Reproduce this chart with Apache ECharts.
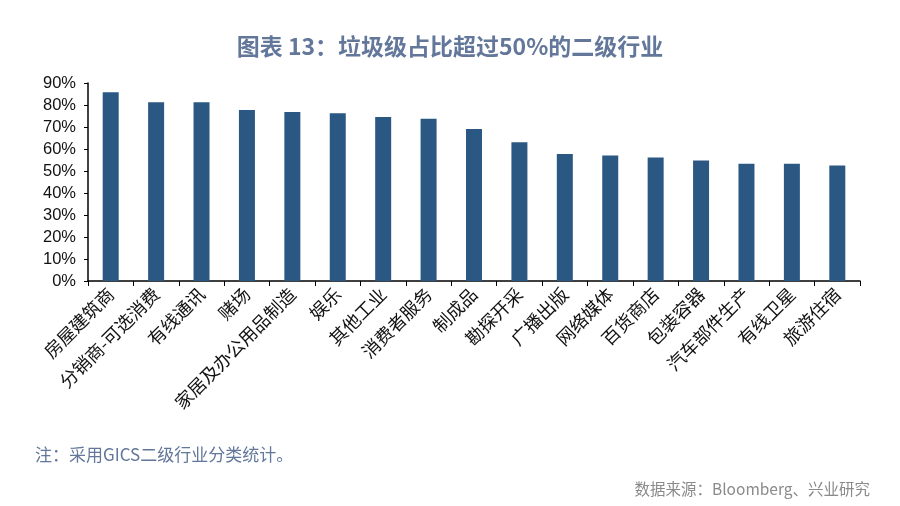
<!DOCTYPE html>
<html><head><meta charset="utf-8">
<script src="https://cdn.jsdelivr.net/npm/echarts@6/dist/echarts.min.js"></script>
<style>html,body{margin:0;padding:0;background:#fff}#c{width:900px;height:506px}</style>
</head><body><div id="c"></div>
<script>
const categories = ['房屋建筑商','分销商-可选消费','有线通讯','赌场','家居及办公用品制造','娱乐','其他工业','消费者服务','制成品','勘探开采','广播出版','网络媒体','百货商店','包装容器','汽车部件生产','有线卫星','旅游住宿'];
const values = [85.8, 81.3, 81.3, 77.7, 76.8, 76.2, 74.5, 73.7, 69.1, 63.1, 57.7, 57.0, 56.1, 54.8, 53.3, 53.3, 52.5];
const yTicks = [0, 10, 20, 30, 40, 50, 60, 70, 80, 90];

const chart = echarts.init(document.getElementById('c'));
chart.setOption({
  animation: false,
  backgroundColor: '#fff',
  title: [
    {text: '图表 13：垃圾级占比超过50%的二级行业', left: 'center', top: 30,
     textStyle: {fontFamily: 'Noto Sans CJK SC', fontSize: 23, fontWeight: 'bold', color: '#62779a'}},
    {text: '注：采用GICS二级行业分类统计。', left: 30, top: 441,
     textStyle: {fontFamily: 'Noto Sans CJK SC', fontSize: 17, fontWeight: 'normal', color: '#62779a'}},
    {text: '数据来源：Bloomberg、兴业研究', right: 25, top: 476,
     textStyle: {fontFamily: 'Noto Sans CJK SC', fontSize: 15.5, fontWeight: 'normal', color: '#8a8a8a'}}
  ],
  grid: {left: 88, right: 40, top: 83, bottom: 225, containLabel: false},
  xAxis: {
    type: 'category', data: categories,
    axisLine: {lineStyle: {color: '#000', width: 1.5}},
    axisTick: {show: true, alignWithLabel: false, length: 5, lineStyle: {color: '#000'}},
    axisLabel: {rotate: 45, interval: 0, fontFamily: 'Noto Sans CJK SC', fontSize: 18, color: '#111', margin: 10}
  },
  yAxis: {
    type: 'value', min: 0, max: 90, interval: 10,
    axisLine: {show: true, lineStyle: {color: '#000', width: 1.5}},
    axisTick: {show: true, length: 4, lineStyle: {color: '#000'}},
    splitLine: {show: false},
    axisLabel: {formatter: v => yTicks.includes(v) ? v + '%' : '', fontFamily: 'Liberation Sans', fontSize: 16.5, color: '#111', margin: 12}
  },
  series: [{
    type: 'bar', data: values, barWidth: 16,
    itemStyle: {color: '#2b5882'}
  }]
});
</script></body></html>
